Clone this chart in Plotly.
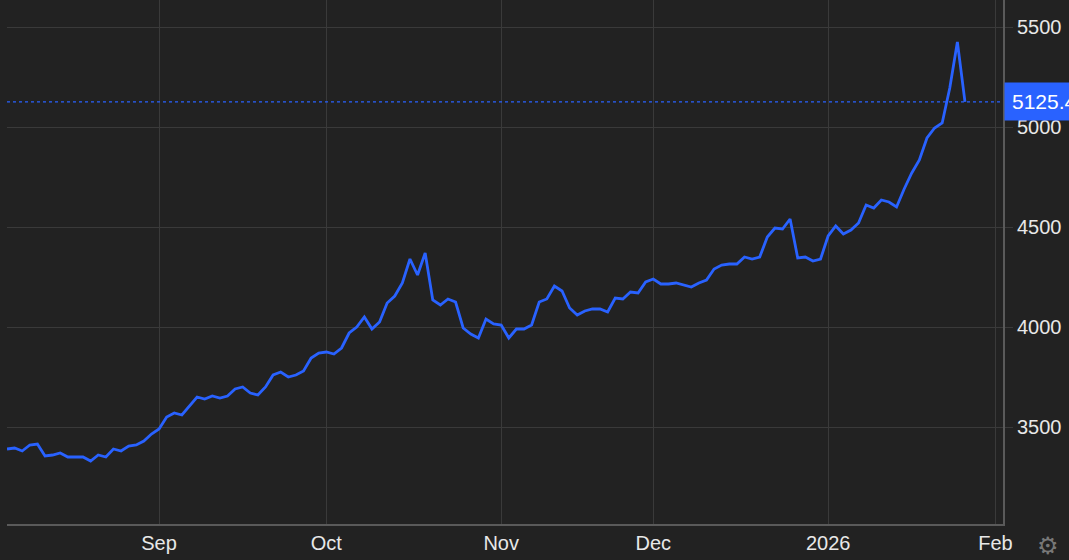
import pandas as pd
import plotly.graph_objects as go

prices = [
    3390, 3395, 3380, 3410, 3415, 3355, 3360, 3370, 3350, 3350, 3350, 3330, 3360, 3350, 3390,
    3380, 3405, 3410, 3430, 3465, 3490, 3550, 3570, 3560, 3605, 3650, 3640, 3655, 3645, 3655,
    3690, 3700, 3670, 3660, 3700, 3760, 3775, 3750, 3760, 3780, 3845, 3870, 3875, 3865, 3895,
    3970, 4000, 4050, 3990, 4025, 4120, 4155, 4220, 4340, 4260, 4370, 4135, 4110, 4140, 4125,
    3995, 3965, 3945, 4040, 4015, 4010, 3945, 3990, 3990, 4010, 4125, 4140, 4205, 4180, 4095,
    4060, 4080, 4090, 4090, 4075, 4145, 4140, 4175, 4170, 4225, 4240,
    4215, 4215, 4220, 4210, 4200, 4220, 4235, 4290, 4310, 4315, 4315, 4350, 4340, 4350, 4450,
    4495, 4490, 4540, 4345, 4350, 4330, 4340, 4455, 4505, 4465, 4485, 4520, 4610, 4595, 4635,
    4625, 4600, 4690, 4770, 4835, 4945, 4995, 5020, 5195, 5425, 5125.4,
]
dates = pd.bdate_range("2025-08-04", periods=len(prices))
last_price = prices[-1]

tick_dates = ["2025-09-01", "2025-10-01", "2025-11-03", "2025-12-01", "2026-01-01", "2026-02-02"]
tick_text = ["Sep", "Oct", "Nov", "Dec", "2026", "Feb"]
y_ticks = [3500, 4000, 4500, 5000, 5500]

end_date = pd.bdate_range(dates[-1], periods=6)[-1]

fig = go.Figure()
fig.add_trace(go.Scatter(x=dates, y=prices, mode="lines",
                         line=dict(color="#2962ff", width=2.8), hoverinfo="skip"))
fig.add_hline(y=last_price, line=dict(color="#2962ff", width=1.2, dash="dot"))

fig.update_layout(
    width=1069, height=560,
    paper_bgcolor="#222222", plot_bgcolor="#222222",
    margin=dict(l=7, r=66, t=0, b=36),
    showlegend=False,
    font=dict(family="Liberation Sans, Arial", color="#e0e0e0", size=19),
)
fig.update_xaxes(
    type="date",
    rangebreaks=[dict(bounds=["sat", "mon"])],
    range=[dates[0], end_date],
    tickvals=tick_dates, ticktext=tick_text,
    showgrid=True, gridcolor="#3a3a3a", gridwidth=1,
    showline=True, linecolor="#5a5a5a", linewidth=2,
    ticks="", tickfont=dict(size=20, color="#e8e8e8"),
    zeroline=False,
)
fig.update_yaxes(
    side="right", range=[3015, 5635],
    tickvals=y_ticks,
    showgrid=True, gridcolor="#3a3a3a", gridwidth=1,
    showline=True, linecolor="#5a5a5a", linewidth=2,
    ticks="outside", ticklen=8, tickcolor="#3a3a3a",
    tickfont=dict(size=20, color="#e8e8e8"),
    zeroline=False,
)
fig.add_annotation(
    xref="paper", yref="y", x=1.0, y=last_price, xanchor="left", yanchor="middle",
    text=f"{last_price:.2f}", showarrow=False,
    bgcolor="#2962ff", font=dict(color="white", size=21),
    borderpad=7, xshift=1,
)
fig.add_annotation(
    xref="paper", yref="paper", x=1.0, y=0, xanchor="left", yanchor="top",
    text="⚙", showarrow=False, xshift=32, yshift=-6,
    font=dict(color="#777777", size=24),
)
fig.write_html("out.html", config={"displayModeBar": False},
               post_script="document.body.style.margin='0';document.body.style.background='#222222';")
